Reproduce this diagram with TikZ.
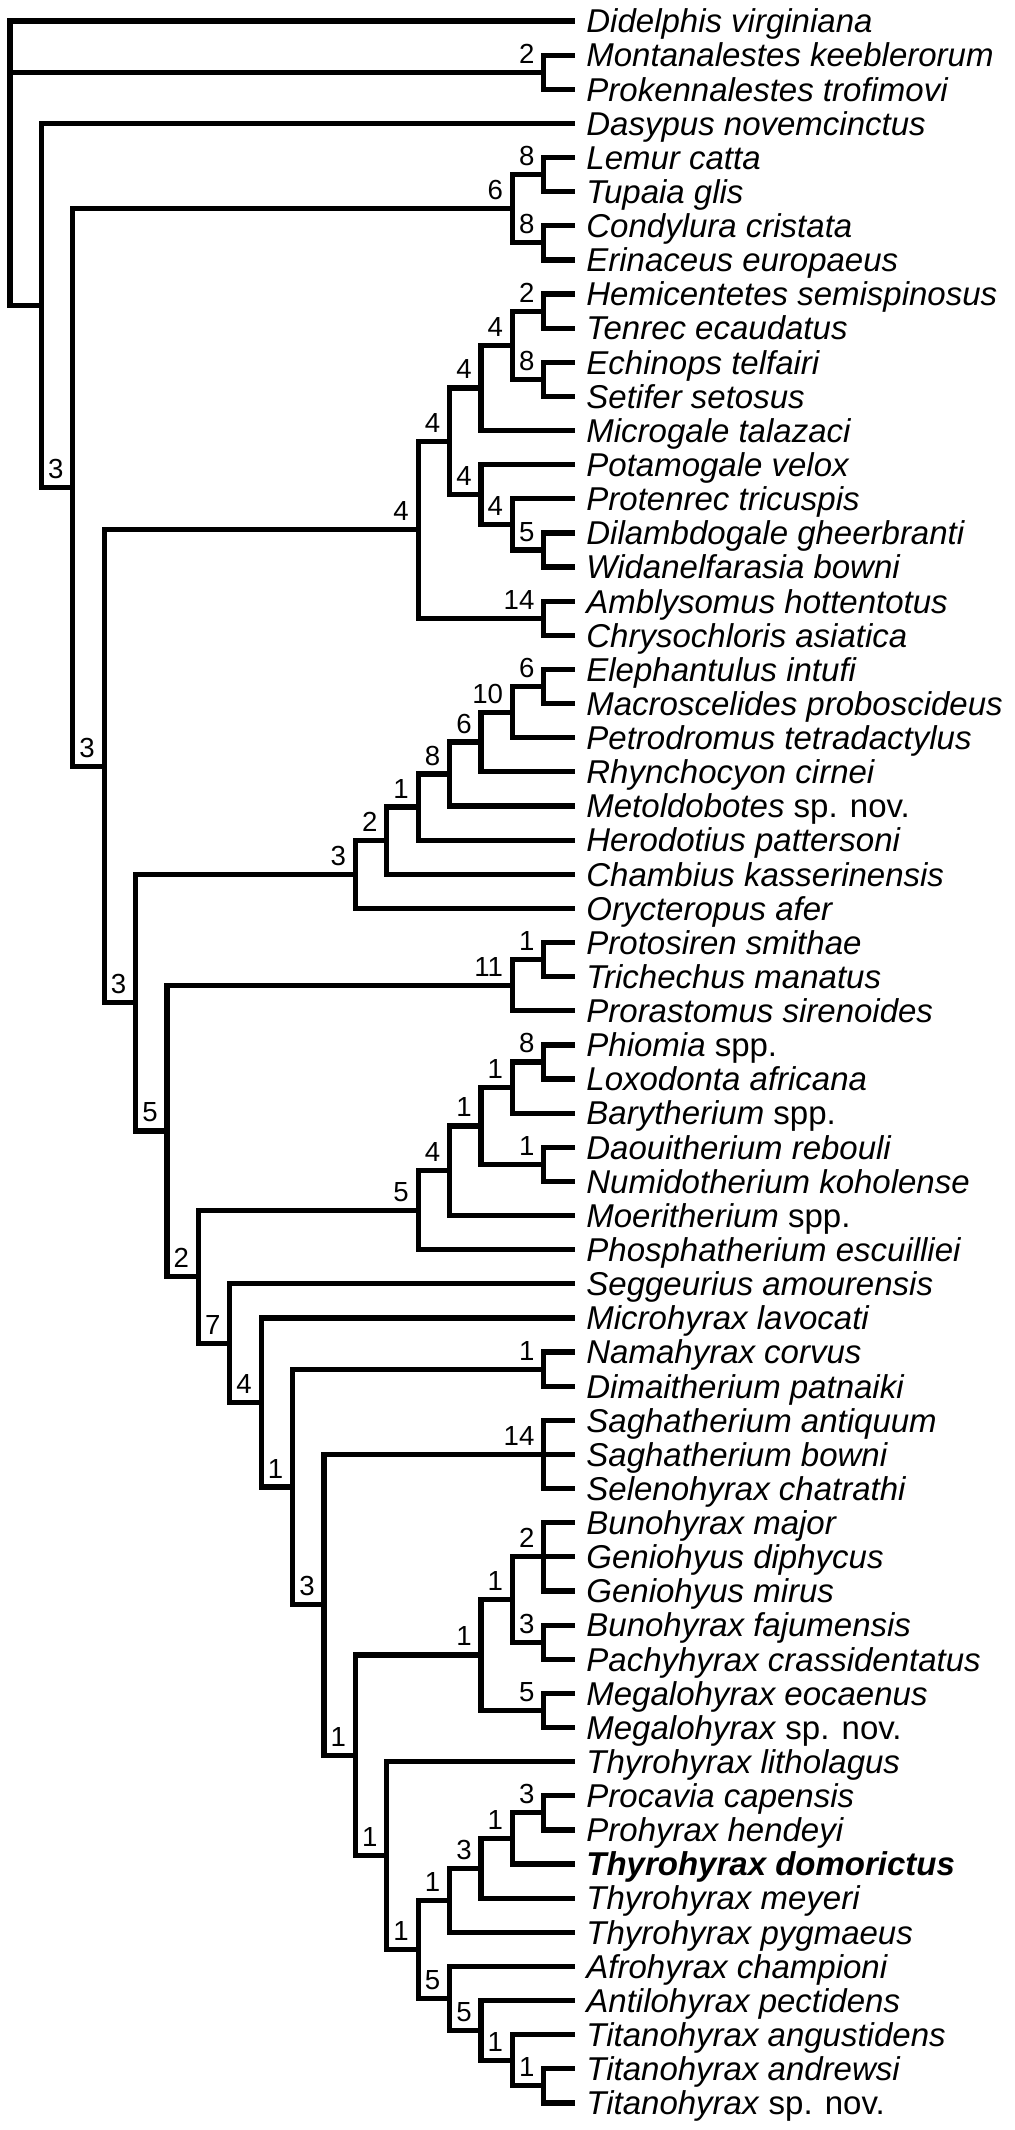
\documentclass[tikz,border=0pt]{standalone}
\usepackage{fontspec}
\setmainfont{Liberation Sans}
\usetikzlibrary{calc}
\newcommand\leaf[2]{%
  \coordinate (l#1) at (575,{ny(#1)});
  \node[taxon] (t#1) at (586,{ny(#1)+11.8}) {#2};}
\newcommand\inode[4]{%
  \coordinate (#1) at ({nx(#2)},{ny(#3)});
  \node[lab] (#1-lab) at ($(#1)+(-9,-9)$) {#4};}
\newcommand\kids[2]{\foreach \c in {#2} {\draw[br] (#1) |- (\c);}}
\begin{document}
\begin{tikzpicture}[x=0.5pt,y=-0.5pt,
  declare function={nx(\k)=10+31.4*\k; ny(\i)=21+34.13*(\i-1);},
  br/.style={line width=2.6pt, line join=miter},
  taxon/.style={anchor=base west, inner sep=0pt, font=\fontsize{16.5}{18}\selectfont},
  lab/.style={anchor=base east, inner sep=0pt, font=\fontsize{13.8}{15}\selectfont}]
\useasboundingbox (0,0) rectangle (1014,2130);
% leaves
\leaf{1}{\textit{Didelphis virginiana}}
\leaf{2}{\textit{Montanalestes keeblerorum}}
\leaf{3}{\textit{Prokennalestes trofimovi}}
\leaf{4}{\textit{Dasypus novemcinctus}}
\leaf{5}{\textit{Lemur catta}}
\leaf{6}{\textit{Tupaia glis}}
\leaf{7}{\textit{Condylura cristata}}
\leaf{8}{\textit{Erinaceus europaeus}}
\leaf{9}{\textit{Hemicentetes semispinosus}}
\leaf{10}{\textit{Tenrec ecaudatus}}
\leaf{11}{\textit{Echinops telfairi}}
\leaf{12}{\textit{Setifer setosus}}
\leaf{13}{\textit{Microgale talazaci}}
\leaf{14}{\textit{Potamogale velox}}
\leaf{15}{\textit{Protenrec tricuspis}}
\leaf{16}{\textit{Dilambdogale gheerbranti}}
\leaf{17}{\textit{Widanelfarasia bowni}}
\leaf{18}{\textit{Amblysomus hottentotus}}
\leaf{19}{\textit{Chrysochloris asiatica}}
\leaf{20}{\textit{Elephantulus intufi}}
\leaf{21}{\textit{Macroscelides proboscideus}}
\leaf{22}{\textit{Petrodromus tetradactylus}}
\leaf{23}{\textit{Rhynchocyon cirnei}}
\leaf{24}{\textit{Metoldobotes} sp. nov.}
\leaf{25}{\textit{Herodotius pattersoni}}
\leaf{26}{\textit{Chambius kasserinensis}}
\leaf{27}{\textit{Orycteropus afer}}
\leaf{28}{\textit{Protosiren smithae}}
\leaf{29}{\textit{Trichechus manatus}}
\leaf{30}{\textit{Prorastomus sirenoides}}
\leaf{31}{\textit{Phiomia} spp.}
\leaf{32}{\textit{Loxodonta africana}}
\leaf{33}{\textit{Barytherium} spp.}
\leaf{34}{\textit{Daouitherium rebouli}}
\leaf{35}{\textit{Numidotherium koholense}}
\leaf{36}{\textit{Moeritherium} spp.}
\leaf{37}{\textit{Phosphatherium escuilliei}}
\leaf{38}{\textit{Seggeurius amourensis}}
\leaf{39}{\textit{Microhyrax lavocati}}
\leaf{40}{\textit{Namahyrax corvus}}
\leaf{41}{\textit{Dimaitherium patnaiki}}
\leaf{42}{\textit{Saghatherium antiquum}}
\leaf{43}{\textit{Saghatherium bowni}}
\leaf{44}{\textit{Selenohyrax chatrathi}}
\leaf{45}{\textit{Bunohyrax major}}
\leaf{46}{\textit{Geniohyus diphycus}}
\leaf{47}{\textit{Geniohyus mirus}}
\leaf{48}{\textit{Bunohyrax fajumensis}}
\leaf{49}{\textit{Pachyhyrax crassidentatus}}
\leaf{50}{\textit{Megalohyrax eocaenus}}
\leaf{51}{\textit{Megalohyrax} sp. nov.}
\leaf{52}{\textit{Thyrohyrax litholagus}}
\leaf{53}{\textit{Procavia capensis}}
\leaf{54}{\textit{Prohyrax hendeyi}}
\leaf{55}{\textbf{\textit{Thyrohyrax domorictus}}}
\leaf{56}{\textit{Thyrohyrax meyeri}}
\leaf{57}{\textit{Thyrohyrax pygmaeus}}
\leaf{58}{\textit{Afrohyrax championi}}
\leaf{59}{\textit{Antilohyrax pectidens}}
\leaf{60}{\textit{Titanohyrax angustidens}}
\leaf{61}{\textit{Titanohyrax andrewsi}}
\leaf{62}{\textit{Titanohyrax} sp. nov.}
% internal nodes: name, level, index, support
\inode{A}{17}{2.5}{2}
\inode{LT}{17}{5.5}{8}
\inode{CE}{17}{7.5}{8}
\inode{E}{16}{6.5}{6}
\inode{HT}{17}{9.5}{2}
\inode{ES}{17}{11.5}{8}
\inode{F}{16}{10.5}{4}
\inode{G}{15}{11.75}{4}
\inode{K}{17}{16.5}{5}
\inode{J}{16}{15.75}{4}
\inode{I}{15}{14.875}{4}
\inode{H}{14}{13.3125}{4}
\inode{M}{17}{18.5}{14}
\inode{L}{13}{15.90625}{4}
\inode{EM}{17}{20.5}{6}
\inode{O}{16}{21.25}{10}
\inode{P}{15}{22.125}{6}
\inode{Q}{14}{23.0625}{8}
\inode{R}{13}{24.03125}{1}
\inode{S}{12}{25.015625}{2}
\inode{T}{11}{26.0078125}{3}
\inode{X}{17}{28.5}{1}
\inode{W}{16}{29.25}{11}
\inode{PL}{17}{31.5}{8}
\inode{PB}{16}{32.25}{1}
\inode{DN}{17}{34.5}{1}
\inode{PC}{15}{33.375}{1}
\inode{PD}{14}{34.6875}{4}
\inode{PE}{13}{35.84375}{5}
\inode{CC}{17}{40.5}{1}
\inode{EE}{17}{43}{14}
\inode{JJ}{17}{46}{2}
\inode{KK}{17}{48.5}{3}
\inode{II}{16}{47.25}{1}
\inode{MG}{17}{50.5}{5}
\inode{GG}{15}{48.875}{1}
\inode{QQ}{17}{53.5}{3}
\inode{PP}{16}{54.25}{1}
\inode{OO}{15}{55.125}{3}
\inode{MM}{14}{56.0625}{1}
\inode{TT}{17}{61.5}{1}
\inode{SS}{16}{60.75}{1}
\inode{RR}{15}{59.875}{5}
\inode{NN}{14}{58.9375}{5}
\inode{LL}{13}{57.5}{1}
\inode{HH}{12}{54.75}{1}
\inode{FF}{11}{51.8125}{1}
\inode{DD}{10}{47.40625}{3}
\inode{BB}{9}{43.953125}{1}
\inode{AA}{8}{41.4765625}{4}
\inode{Z}{7}{39.73828125}{7}
\inode{Y}{6}{37.791015625}{2}
\inode{V}{5}{33.5205078125}{5}
\inode{N}{4}{29.76416015625}{3}
\inode{D}{3}{22.835205078125}{3}
\inode{C}{2}{14.6676025390625}{3}
\coordinate (B) at ({nx(1)},{ny(9.33380126953125)});
\coordinate (root) at ({nx(0)},{ny(5.166900634765625)});
% branches
\kids{root}{l1,A,B}
\kids{A}{l2,l3}
\kids{B}{l4,C}
\kids{C}{E,D}
\kids{E}{LT,CE}
\kids{LT}{l5,l6}
\kids{CE}{l7,l8}
\kids{D}{L,N}
\kids{L}{H,M}
\kids{H}{G,I}
\kids{G}{F,l13}
\kids{F}{HT,ES}
\kids{HT}{l9,l10}
\kids{ES}{l11,l12}
\kids{I}{l14,J}
\kids{J}{l15,K}
\kids{K}{l16,l17}
\kids{M}{l18,l19}
\kids{N}{T,V}
\kids{T}{S,l27}
\kids{S}{R,l26}
\kids{R}{Q,l25}
\kids{Q}{P,l24}
\kids{P}{O,l23}
\kids{O}{EM,l22}
\kids{EM}{l20,l21}
\kids{V}{W,Y}
\kids{W}{X,l30}
\kids{X}{l28,l29}
\kids{Y}{PE,Z}
\kids{PE}{PD,l37}
\kids{PD}{PC,l36}
\kids{PC}{PB,DN}
\kids{PB}{PL,l33}
\kids{PL}{l31,l32}
\kids{DN}{l34,l35}
\kids{Z}{l38,AA}
\kids{AA}{l39,BB}
\kids{BB}{CC,DD}
\kids{CC}{l40,l41}
\kids{DD}{EE,FF}
\kids{EE}{l42,l43,l44}
\kids{FF}{GG,HH}
\kids{GG}{II,MG}
\kids{II}{JJ,KK}
\kids{JJ}{l45,l46,l47}
\kids{KK}{l48,l49}
\kids{MG}{l50,l51}
\kids{HH}{l52,LL}
\kids{LL}{MM,NN}
\kids{MM}{OO,l57}
\kids{OO}{PP,l56}
\kids{PP}{QQ,l55}
\kids{QQ}{l53,l54}
\kids{NN}{l58,RR}
\kids{RR}{l59,SS}
\kids{SS}{l60,TT}
\kids{TT}{l61,l62}
\end{tikzpicture}
\end{document}
